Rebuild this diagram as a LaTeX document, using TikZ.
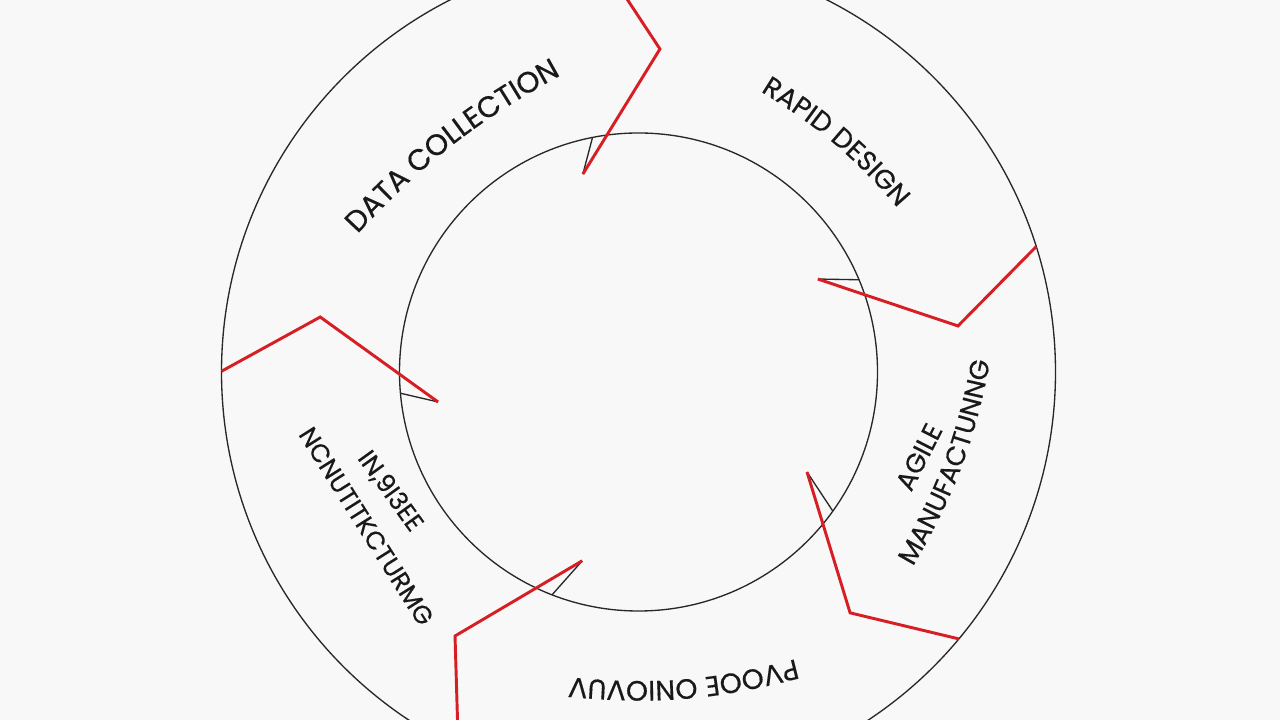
\documentclass[tikz,border=0pt]{standalone}
\usepackage{fontspec}
\setmainfont{Poppins}[FakeBold=0.4]
\usetikzlibrary{decorations.text}
\definecolor{chev}{RGB}{214,30,36}
\definecolor{ringc}{RGB}{40,40,40}
\definecolor{bg}{RGB}{248,248,248}
\definecolor{ink}{RGB}{25,25,25}
\begin{document}
\begin{tikzpicture}[x=0.75pt,y=0.75pt,
  ring/.style={draw=ringc, line width=1pt},
  chevline/.style={draw=chev, line width=2.2pt, line join=miter},
  notch/.style={draw=ringc, line width=1pt},
  arclbl/.style 2 args={decorate, decoration={text along path, text align=center, text={|\color{ink}\fontsize{#1}{24}\selectfont|#2}}}]
\useasboundingbox (0,0) rectangle (1280,720);
\fill[bg] (0,0) rectangle (1280,720);
\clip (0,0) rectangle (1280,720);
\coordinate (C) at (638.5,348);
% rings
\draw[ring] (C) circle[radius=417];
\draw[ring] (C) circle[radius=239];
% chevrons: index / outer angle / vertex angle / vertex radius / tip angle / tip radius / notch angle
\foreach \i/\ao/\av/\rv/\at/\rt/\an in {
  1/95.4/86.2/323.7/105.7/205.6/101.1,
  2/17.5/8.2/322.8/27.4/202/22.7,
  3/-39.8/-48.7/320.6/-30.7/196/-35.6,
  4/-115.6/-124.8/321.5/-106.6/197/-111.2,
  5/179.9/170.2/323/188.5/202.7/185.1}{
  \coordinate (o\i) at ([shift={(\ao:417)}]C);
  \coordinate (v\i) at ([shift={(\av:\rv)}]C);
  \coordinate (t\i) at ([shift={(\at:\rt)}]C);
  \coordinate (n\i) at ([shift={(\an:239)}]C);
  \draw[notch] (t\i) -- (n\i);
  \draw[chevline] (o\i) -- (v\i) -- (t\i);
}
% labels set along paths
\coordinate (dcA) at (343,470);
\coordinate (dcB) at (580,655);
\path[arclbl={22}{DATA COLLECTION}] (dcA) to[bend left=10] (dcB);
\coordinate (rdA) at (755,632);
\coordinate (rdB) at (902,507);
\path[arclbl={20.5}{RAPID DESIGN}] (rdA) to[bend left=9] (rdB);
\coordinate (btA) at (800,62);
\coordinate (btB) at (565,43);
\path[arclbl={21}{PVOOE ONIOVUV}] (btA) to[bend left=10] (btB);
\coordinate (mfA) at (908,145);
\coordinate (mfB) at (992,368);
\path[arclbl={20}{MANUFACTUNNG}] (mfA) to[bend right=10] (mfB);
\coordinate (agA) at (904.5,214.3);
\coordinate (agB) at (949.9,303.4);
\path[arclbl={20}{AGILE}] (agA) -- (agB);
\coordinate (loA) at (289.6,298.9);
\coordinate (loB) at (428.4,79.1);
\path[arclbl={19}{NCNUTITKCTURMG}] (loA) -- (loB);
\coordinate (liA) at (343,281);
\coordinate (liB) at (425,167);
\path[arclbl={19}{IN,9I3EE}] (liA) -- (liB);
\end{tikzpicture}
\end{document}
